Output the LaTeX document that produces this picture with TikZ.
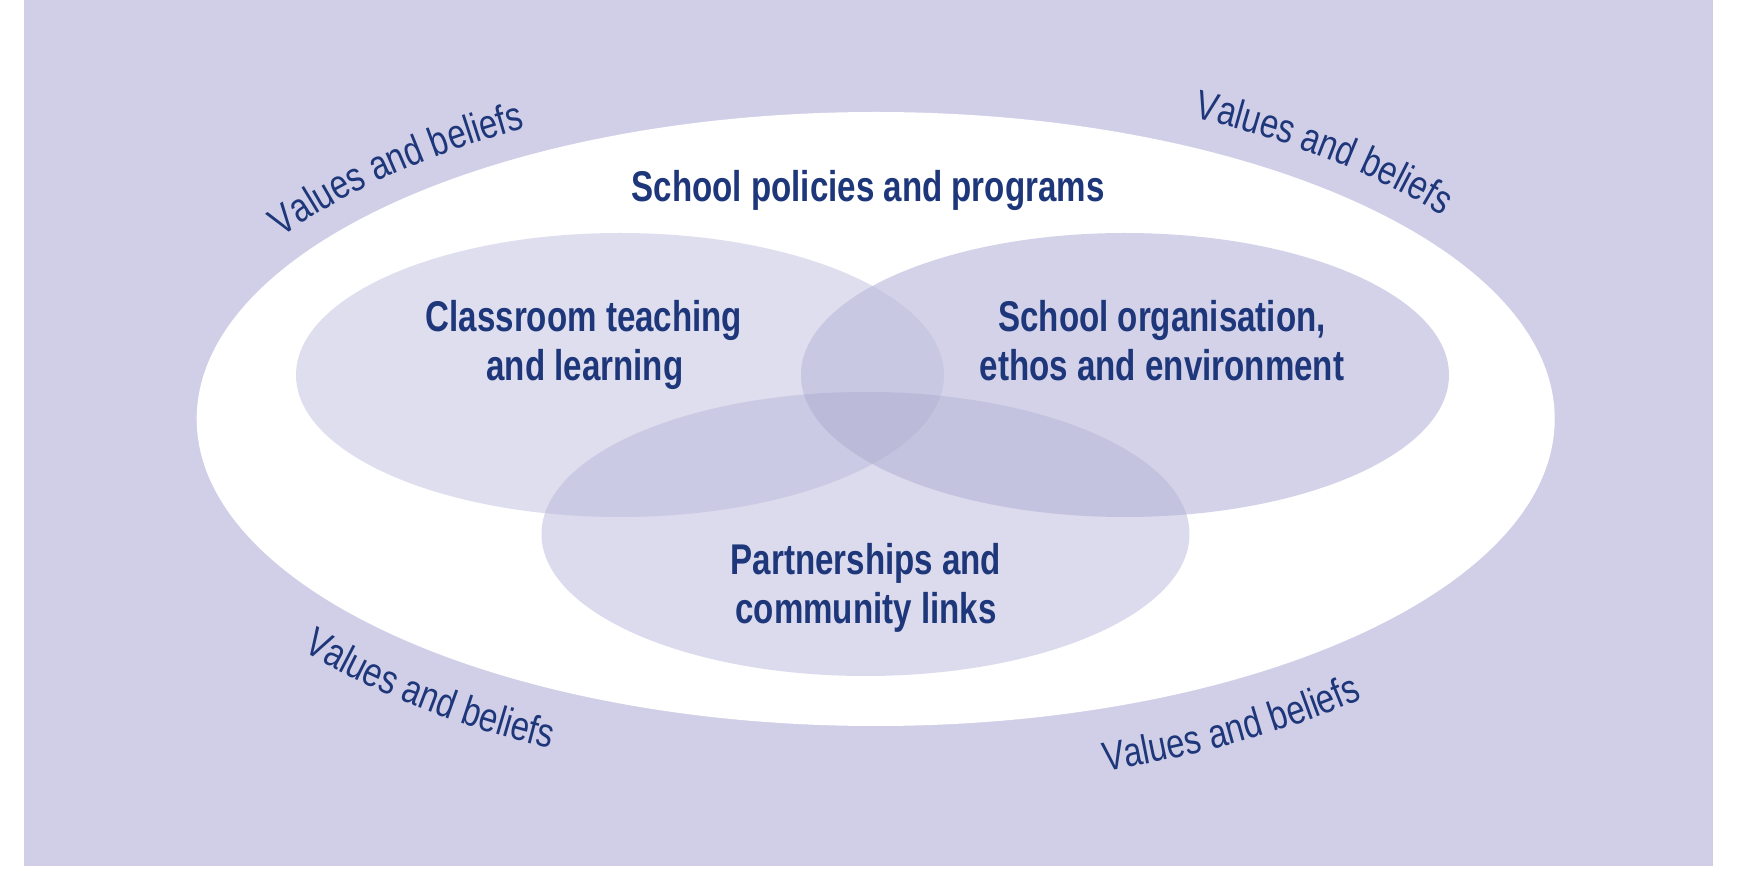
\documentclass[tikz,border=0pt]{standalone}
\usepackage{fontspec}
\usetikzlibrary{decorations.text}
\newfontfamily\hdfont{Liberation Sans}[FakeStretch=0.77]
\newfontfamily\valfont{Liberation Sans}[FakeStretch=0.8]
\definecolor{navy}{RGB}{30,55,122}
\definecolor{bgpurple}{HTML}{D1CFE7}
\definecolor{cL}{HTML}{DFDEEF}
\definecolor{cR}{HTML}{D3D2E9}
\definecolor{cB}{HTML}{DCDBED}
\definecolor{cLR}{HTML}{C9C8E3}
\definecolor{cLB}{HTML}{CBCAE4}
\definecolor{cRB}{HTML}{C4C3DF}
\definecolor{cLRB}{HTML}{BBBAD9}
\begin{document}
\begin{tikzpicture}[x=1pt,y=1pt,
  head/.style={font=\hdfont\bfseries\fontsize{43}{49}\selectfont, text=navy, inner sep=0pt, anchor=base},
  vb/.style={decorate, decoration={text along path, text align=center,
     text={|\valfont\fontsize{41}{43}\selectfont\color{navy}|Values and beliefs}}}
]
\useasboundingbox (0,0) rectangle (1746,879);
\fill[white] (0,0) rectangle (1746,879);
\fill[bgpurple] (24,13) rectangle (1713,879);
% outer white ellipse
\coordinate (oc) at (875.7,460);
\fill[white] (oc) ellipse [x radius=679pt, y radius=307pt];
% three overlapping ellipses
\def\ellL{(620,504) ellipse [x radius=324pt, y radius=142pt]}
\def\ellR{(1125,504) ellipse [x radius=324pt, y radius=142pt]}
\def\ellB{(865.5,345) ellipse [x radius=324pt, y radius=142pt]}
\fill[cL] \ellL;
\fill[cR] \ellR;
\fill[cB] \ellB;
\begin{scope}\clip \ellL; \fill[cLR] \ellR; \end{scope}
\begin{scope}\clip \ellL; \fill[cLB] \ellB; \end{scope}
\begin{scope}\clip \ellR; \fill[cRB] \ellB; \end{scope}
\begin{scope}\clip \ellL; \clip \ellR; \fill[cLRB] \ellB; \end{scope}
% labels
\node[head] (pol) at (868,677) {School policies and programs};
\node[head] (cls1) at (584,547) {Classroom teaching};
\node[head] (cls2) at (585,498) {and learning};
\node[head] (org1) at (1162,547) {School organisation,};
\node[head] (org2) at (1162,498) {ethos and environment};
\node[head] (par1) at (866,304) {Partnerships and};
\node[head] (par2) at (866,255) {community links};
% curved "Values and beliefs"
\path[vb] (oc) ++(157:707pt and 335pt) arc[start angle=157, end angle=113, x radius=707pt, y radius=335pt];
\path[vb] (oc) ++(70.7:709.5pt and 337.5pt) arc[start angle=70.7, end angle=26.7, x radius=709.5pt, y radius=337.5pt];
\path[vb] (oc) ++(208:739pt and 367pt) arc[start angle=208, end angle=252, x radius=739pt, y radius=367pt];
\path[vb] (oc) ++(278.7:742.5pt and 370.5pt) arc[start angle=278.7, end angle=322.7, x radius=742.5pt, y radius=370.5pt];
\end{tikzpicture}
\end{document}
